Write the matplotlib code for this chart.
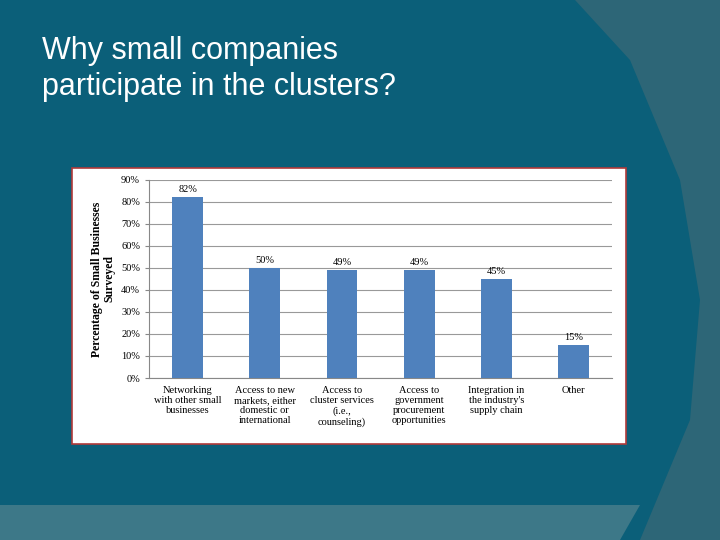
import matplotlib
matplotlib.use("Agg")
import matplotlib.pyplot as plt
from matplotlib.patches import Rectangle, Polygon

categories = ["Networking\nwith other small\nbusinesses",
              "Access to new\nmarkets, either\ndomestic or\ninternational",
              "Access to\ncluster services\n(i.e.,\ncounseling)",
              "Access to\ngovernment\nprocurement\nopportunities",
              "Integration in\nthe industry's\nsupply chain",
              "Other"]
values = [82, 50, 49, 49, 45, 15]
labels = ["82%", "50%", "49%", "49%", "45%", "15%"]
yticks = [0, 10, 20, 30, 40, 50, 60, 70, 80, 90]

fig = plt.figure(figsize=(7.2, 5.4), dpi=100)
fig.patch.set_facecolor("#0b5f79")
bg = fig.add_axes([0, 0, 1, 1])
bg.set_xlim(0, 720); bg.set_ylim(540, 0); bg.axis("off")
bg.add_patch(Polygon([(575, 0), (720, 0), (720, 540), (640, 540), (690, 420), (700, 300), (680, 180), (630, 60)],
                     closed=True, facecolor="#2d6677", edgecolor="none"))
bg.add_patch(Polygon([(0, 505), (640, 505), (620, 540), (0, 540)], closed=True, facecolor="#3d7888", edgecolor="none"))
bg.text(42, 69, "Why small companies\nparticipate in the clusters?", color="white",
        fontsize=22, family="Liberation Sans", va="center", ha="left", linespacing=1.25)
bg.add_patch(Rectangle((72, 168), 554, 276, facecolor="white", edgecolor="#b03a3a", linewidth=1.2))

ax = fig.add_axes([0.207, 0.30, 0.643, 0.367])
x = range(len(values))
ax.bar(x, values, width=0.4, color="#4f81bd", zorder=3)
for i, (v, l) in enumerate(zip(values, labels)):
    ax.text(i, v + 1.5, l, ha="center", va="bottom", fontsize=7.5, family="Liberation Serif")
ax.set_ylim(0, 90)
ax.set_xlim(-0.5, len(values) - 0.5)
ax.set_yticks(yticks)
ax.set_yticklabels([f"{t}%" for t in yticks], fontsize=7.5, family="Liberation Serif")
ax.set_xticks(list(x))
ax.set_xticklabels(categories, fontsize=7.5, family="Liberation Serif", linespacing=1.15)
ax.tick_params(axis="x", length=0, pad=6)
ax.tick_params(axis="y", length=3, color="#888888")
ax.grid(axis="y", color="#999999", linewidth=0.8, zorder=0)
for s in ["top", "right"]:
    ax.spines[s].set_visible(False)
ax.spines["left"].set_color("#888888")
ax.spines["bottom"].set_color("#888888")
ax.set_ylabel("Percentage of Small Businesses\nSurveyed", fontsize=8.5, family="Liberation Serif",
              fontweight="bold", linespacing=1.0)
fig.savefig("out.png", dpi=100, facecolor=fig.get_facecolor())
